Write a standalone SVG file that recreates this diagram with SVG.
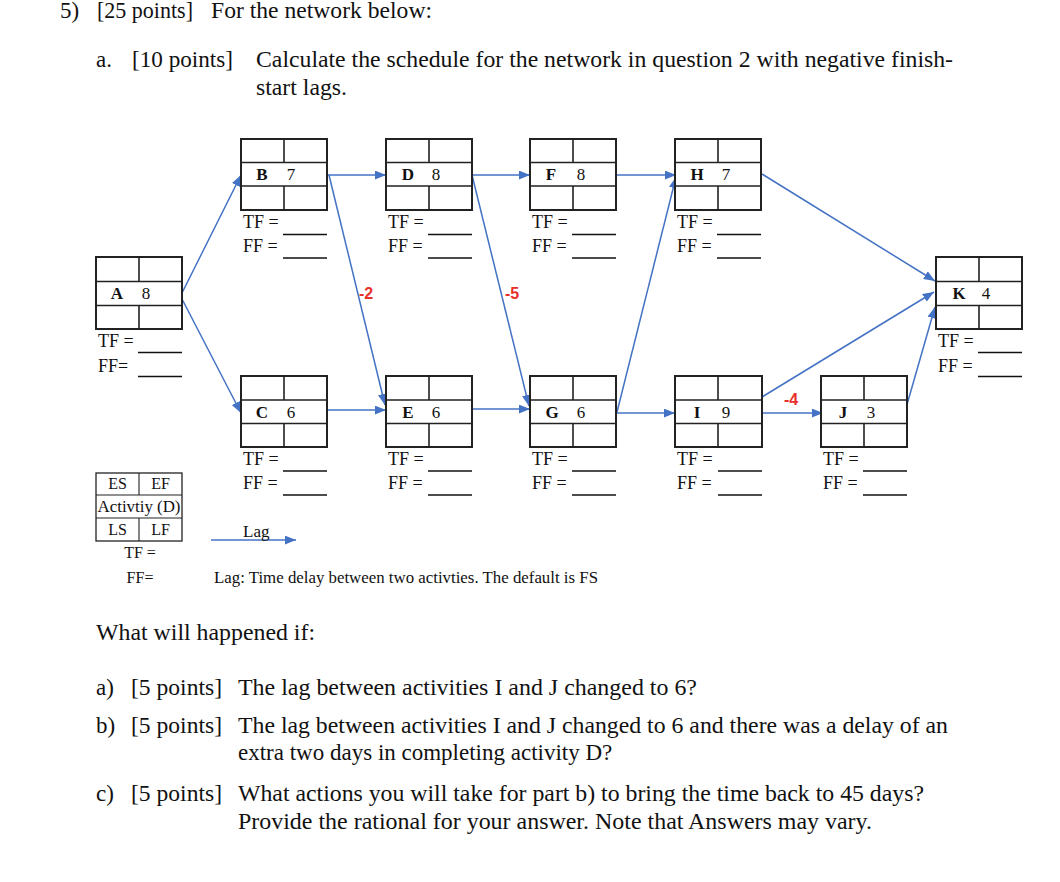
<svg xmlns="http://www.w3.org/2000/svg" width="1060" height="882" viewBox="0 0 1060 882">
<style>
.t{font-family:"Liberation Serif","Times New Roman",serif;fill:#111}
.h{font-size:23px}
.n{font-size:17px}
.b{font-weight:bold}
.f{font-size:18px}
.lg{font-size:16px}
.lag{font-family:"Liberation Sans",Arial,sans-serif;font-size:16px;font-weight:bold;fill:#E8302A}
.box{fill:#fff;stroke:#222;stroke-width:2}
.in{stroke:#222;stroke-width:1.6;fill:none}
.ul{stroke:#111;stroke-width:1.3}
.c{stroke:#4472C4;stroke-width:1.5;fill:none;marker-end:url(#ah)}
</style>
<defs>
<marker id="ah" viewBox="0 0 10 8" refX="10" refY="4" markerWidth="7.5" markerHeight="6" orient="auto">
<path d="M0,0 L10,4 L0,8 z" fill="#4472C4"/>
</marker>
</defs>
<rect width="1060" height="882" fill="#fff"/>

<g id="header">
<text class="t h" x="60" y="18">5)</text>
<text class="t h" x="97" y="18" textLength="96" lengthAdjust="spacingAndGlyphs">[25 points]</text>
<text class="t h" x="211" y="18" textLength="221" lengthAdjust="spacingAndGlyphs">For the network below:</text>
<text class="t h" x="96" y="67">a.</text>
<text class="t h" x="132" y="67" textLength="101" lengthAdjust="spacingAndGlyphs">[10 points]</text>
<text class="t h" x="256" y="67" textLength="697" lengthAdjust="spacingAndGlyphs">Calculate the schedule for the network in question 2 with negative finish-</text>
<text class="t h" x="256" y="95" textLength="91" lengthAdjust="spacingAndGlyphs">start lags.</text>
</g>

<g id="connectors">
<line class="c" x1="182" y1="293" x2="241" y2="175"/>
<line class="c" x1="182" y1="299" x2="241" y2="413"/>
<line class="c" x1="328" y1="175" x2="386" y2="175"/>
<line class="c" x1="329" y1="175" x2="385" y2="405"/>
<line class="c" x1="472" y1="175" x2="530" y2="175"/>
<line class="c" x1="472" y1="175" x2="529" y2="406"/>
<line class="c" x1="617" y1="175" x2="676" y2="175"/>
<line class="c" x1="617" y1="412" x2="676" y2="177"/>
<line class="c" x1="762" y1="174" x2="935" y2="281"/>
<line class="c" x1="327" y1="410" x2="386" y2="410"/>
<line class="c" x1="472" y1="409" x2="530" y2="409"/>
<line class="c" x1="617" y1="413" x2="675" y2="413"/>
<line class="c" x1="762" y1="397" x2="934" y2="292"/>
<line class="c" x1="762" y1="413" x2="823" y2="413" stroke-width="2"/>
<line class="c" x1="906" y1="408" x2="935" y2="307"/>
<text class="lag" x="359" y="299">-2</text>
<text class="lag" x="505" y="299">-5</text>
<text class="lag" x="784" y="405">-4</text>
</g>

<g id="node-A">
<rect class="box" x="96" y="257" width="86" height="72"/>
<path class="in" d="M96 281.5H182M96 305.5H182M139 257V281.5M139 305.5V329"/>
<text class="t n b" x="117" y="299" text-anchor="middle">A</text>
<text class="t n" x="146" y="299" text-anchor="middle">8</text>
<text class="t f" x="98" y="347">TF =</text>
<text class="t f" x="98" y="372">FF=</text>
<line class="ul" x1="138" y1="352.5" x2="182" y2="352.5"/>
<line class="ul" x1="138" y1="376.5" x2="182" y2="376.5"/>
</g>

<g id="node-B">
<rect class="box" x="241" y="139" width="86" height="71"/>
<path class="in" d="M241 162.5H327M241 186H327M284 139V162.5M284 186V210"/>
<text class="t n b" x="262" y="180" text-anchor="middle">B</text>
<text class="t n" x="291" y="180" text-anchor="middle">7</text>
<text class="t f" x="243" y="228">TF =</text>
<text class="t f" x="243" y="252">FF =</text>
<line class="ul" x1="283" y1="234.5" x2="327" y2="234.5"/>
<line class="ul" x1="283" y1="258" x2="327" y2="258"/>
</g>

<g id="node-D">
<rect class="box" x="386" y="139" width="86" height="71"/>
<path class="in" d="M386 162.5H472M386 186H472M429 139V162.5M429 186V210"/>
<text class="t n b" x="408" y="180" text-anchor="middle">D</text>
<text class="t n" x="436" y="180" text-anchor="middle">8</text>
<text class="t f" x="388" y="228">TF =</text>
<text class="t f" x="388" y="252">FF =</text>
<line class="ul" x1="428" y1="234.5" x2="472" y2="234.5"/>
<line class="ul" x1="428" y1="258" x2="472" y2="258"/>
</g>

<g id="node-F">
<rect class="box" x="530" y="139" width="86" height="71"/>
<path class="in" d="M530 162.5H616M530 186H616M573 139V162.5M573 186V210"/>
<text class="t n b" x="551" y="180" text-anchor="middle">F</text>
<text class="t n" x="581" y="180" text-anchor="middle">8</text>
<text class="t f" x="532" y="228">TF =</text>
<text class="t f" x="532" y="252">FF =</text>
<line class="ul" x1="572" y1="234.5" x2="616" y2="234.5"/>
<line class="ul" x1="572" y1="258" x2="616" y2="258"/>
</g>

<g id="node-H">
<rect class="box" x="675" y="139" width="86" height="71"/>
<path class="in" d="M675 162.5H761M675 186H761M718 139V162.5M718 186V210"/>
<text class="t n b" x="697" y="180" text-anchor="middle">H</text>
<text class="t n" x="726" y="180" text-anchor="middle">7</text>
<text class="t f" x="677" y="228">TF =</text>
<text class="t f" x="677" y="252">FF =</text>
<line class="ul" x1="717" y1="234.5" x2="761" y2="234.5"/>
<line class="ul" x1="717" y1="258" x2="761" y2="258"/>
</g>

<g id="node-K">
<rect class="box" x="936" y="257" width="86" height="72"/>
<path class="in" d="M936 281.5H1022M936 305.5H1022M979 257V281.5M979 305.5V329"/>
<text class="t n b" x="959" y="299" text-anchor="middle">K</text>
<text class="t n" x="986" y="299" text-anchor="middle">4</text>
<text class="t f" x="938" y="347">TF =</text>
<text class="t f" x="938" y="372">FF =</text>
<line class="ul" x1="978" y1="352.5" x2="1022" y2="352.5"/>
<line class="ul" x1="978" y1="376.5" x2="1022" y2="376.5"/>
</g>

<g id="node-C">
<rect class="box" x="241" y="376" width="86" height="71"/>
<path class="in" d="M241 400H327M241 423.5H327M284 376V400M284 423.5V447"/>
<text class="t n b" x="262" y="418" text-anchor="middle">C</text>
<text class="t n" x="291" y="418" text-anchor="middle">6</text>
<text class="t f" x="243" y="465">TF =</text>
<text class="t f" x="243" y="489">FF =</text>
<line class="ul" x1="283" y1="471" x2="327" y2="471"/>
<line class="ul" x1="283" y1="495" x2="327" y2="495"/>
</g>

<g id="node-E">
<rect class="box" x="386" y="376" width="86" height="71"/>
<path class="in" d="M386 400H472M386 423.5H472M429 376V400M429 423.5V447"/>
<text class="t n b" x="408" y="418" text-anchor="middle">E</text>
<text class="t n" x="436" y="418" text-anchor="middle">6</text>
<text class="t f" x="388" y="465">TF =</text>
<text class="t f" x="388" y="489">FF =</text>
<line class="ul" x1="428" y1="471" x2="472" y2="471"/>
<line class="ul" x1="428" y1="495" x2="472" y2="495"/>
</g>

<g id="node-G">
<rect class="box" x="530" y="376" width="86" height="71"/>
<path class="in" d="M530 400H616M530 423.5H616M573 376V400M573 423.5V447"/>
<text class="t n b" x="552" y="418" text-anchor="middle">G</text>
<text class="t n" x="581" y="418" text-anchor="middle">6</text>
<text class="t f" x="532" y="465">TF =</text>
<text class="t f" x="532" y="489">FF =</text>
<line class="ul" x1="572" y1="471" x2="616" y2="471"/>
<line class="ul" x1="572" y1="495" x2="616" y2="495"/>
</g>

<g id="node-I">
<rect class="box" x="675" y="376" width="87" height="71"/>
<path class="in" d="M675 400H762M675 423.5H762M718 376V400M718 423.5V447"/>
<text class="t n b" x="697" y="418" text-anchor="middle">I</text>
<text class="t n" x="726" y="418" text-anchor="middle">9</text>
<text class="t f" x="677" y="465">TF =</text>
<text class="t f" x="677" y="489">FF =</text>
<line class="ul" x1="718" y1="471" x2="762" y2="471"/>
<line class="ul" x1="718" y1="495" x2="762" y2="495"/>
</g>

<g id="node-J">
<rect class="box" x="821" y="376" width="86" height="71"/>
<path class="in" d="M821 400H907M821 423.5H907M864 376V400M864 423.5V447"/>
<text class="t n b" x="843" y="418" text-anchor="middle">J</text>
<text class="t n" x="871" y="418" text-anchor="middle">3</text>
<text class="t f" x="823" y="465">TF =</text>
<text class="t f" x="823" y="489">FF =</text>
<line class="ul" x1="863" y1="471" x2="907" y2="471"/>
<line class="ul" x1="863" y1="495" x2="907" y2="495"/>
</g>

<g id="legend">
<rect x="96" y="473" width="86" height="68" fill="#fff" stroke="#222" stroke-width="1.3"/>
<path d="M96 495H182M96 518H182M139 473V495M139 518V541" stroke="#222" stroke-width="1.1" fill="none"/>
<text class="t lg" x="117.5" y="489" text-anchor="middle">ES</text>
<text class="t lg" x="160.5" y="489" text-anchor="middle">EF</text>
<text class="t lg" x="139" y="512" text-anchor="middle" textLength="83" lengthAdjust="spacingAndGlyphs">Activtiy (D)</text>
<text class="t lg" x="117.5" y="535" text-anchor="middle">LS</text>
<text class="t lg" x="160.5" y="535" text-anchor="middle">LF</text>
<text class="t lg" x="140" y="558" text-anchor="middle">TF =</text>
<text class="t lg" x="140" y="583" text-anchor="middle">FF=</text>
<line class="c" x1="211" y1="540" x2="296" y2="540" stroke-width="2"/>
<text class="t" x="243" y="537" font-size="17">Lag</text>
<text class="t lg" x="214" y="583" textLength="384" lengthAdjust="spacingAndGlyphs">Lag: Time delay between two activties. The default is FS</text>
</g>

<g id="questions">
<text class="t h" x="96" y="640" textLength="219" lengthAdjust="spacingAndGlyphs">What will happened if:</text>
<text class="t h" x="96" y="695">a)</text>
<text class="t h" x="131" y="695" textLength="91" lengthAdjust="spacingAndGlyphs">[5 points]</text>
<text class="t h" x="238" y="695" textLength="459" lengthAdjust="spacingAndGlyphs">The lag between activities I and J changed to 6?</text>
<text class="t h" x="96" y="733">b)</text>
<text class="t h" x="131" y="733" textLength="91" lengthAdjust="spacingAndGlyphs">[5 points]</text>
<text class="t h" x="238" y="733" textLength="710" lengthAdjust="spacingAndGlyphs">The lag between activities I and J changed to 6 and there was a delay of an</text>
<text class="t h" x="238" y="760">extra two days in completing activity D?</text>
<text class="t h" x="96" y="801">c)</text>
<text class="t h" x="131" y="801" textLength="91" lengthAdjust="spacingAndGlyphs">[5 points]</text>
<text class="t h" x="238" y="801" textLength="686" lengthAdjust="spacingAndGlyphs">What actions you will take for part b) to bring the time back to 45 days?</text>
<text class="t h" x="238" y="829" textLength="634" lengthAdjust="spacingAndGlyphs">Provide the rational for your answer. Note that Answers may vary.</text>
</g>
</svg>
